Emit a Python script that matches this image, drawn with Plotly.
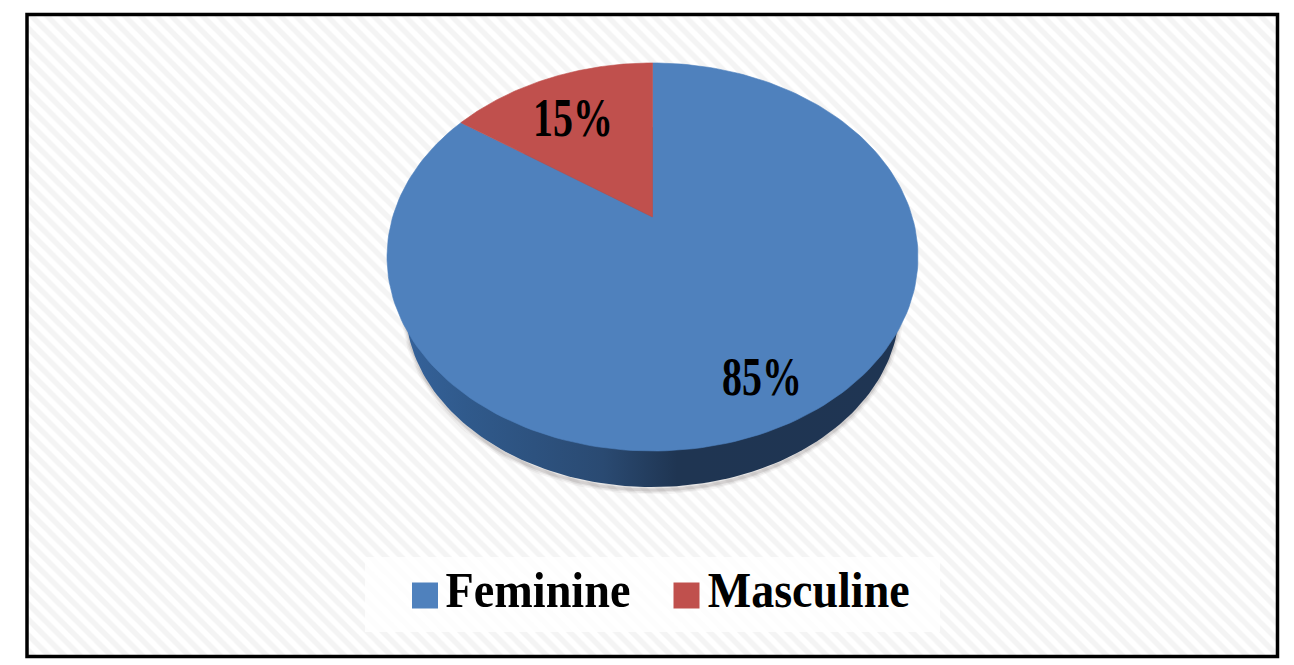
import numpy as np
import plotly.graph_objects as go

# data
categories = ['Feminine', 'Masculine']
shares = [84.6, 15.4]
pct_labels = ['85%', '15%']
colors = ['#4f81bd', '#c0504d']

W, H = 1294, 665
FONT = 'Liberation Serif'

# pie disc seen in perspective: apex is not the middle of the ellipse
cx, apex_y = 652.5, 217
k, a, b = 0.206, 185.8, 259.8


def disc(frac):
    t = 2 * np.pi * np.asarray(frac)
    w = 1 + k * np.cos(t)
    return cx + b * np.sin(t) / w, apex_y - a * np.cos(t) / w


def ellipse(cy, rx, ry):
    t = np.linspace(0, 2 * np.pi, 240)
    return cx + rx * np.cos(t), cy + ry * np.sin(t)


def poly(xs, ys, **kw):
    return go.Scatter(x=xs, y=ys, mode='lines', fill='toself', hoverinfo='skip', **kw)


fig = go.Figure()

# hatched background
fig.add_trace(poly([27, 1278, 1278, 27, 27], [15, 15, 656, 656, 15], line=dict(width=0),
                   fillcolor='white',
                   fillpattern=dict(shape='\\', size=11, solidity=0.5, fgcolor='#e9e9e9', bgcolor='white')))

# legend box
fig.add_trace(poly([365, 940, 940, 365, 365], [557, 557, 632, 632, 557], line=dict(width=0),
                   fillcolor='rgba(255,255,255,0.8)'))

# soft shadow under the disc
sx, sy = ellipse(306, 247, 184)
for width, alpha in [(9, 0.05), (6, 0.08), (3, 0.12)]:
    fig.add_trace(go.Scatter(x=sx, y=sy, mode='lines', hoverinfo='skip',
                             line=dict(color='rgba(70,60,60,%s)' % alpha, width=width)))

# side of the disc
ex, ey = ellipse(307, 247, 180)
fig.add_trace(poly(ex, ey, line=dict(width=0),
                   fillgradient=dict(type='horizontal',
                                     colorscale=[[0, '#35629a'], [0.12, '#305a8c'], [0.4, '#2a4a72'],
                                                 [0.55, '#1f3552'], [1, '#1f3553']])))

# slices
start = 0
for name, share, color in zip(categories, shares, colors):
    f = np.linspace(start, start + share / sum(shares), 200)
    xs, ys = disc(f)
    fig.add_trace(poly(np.r_[cx, xs, cx], np.r_[apex_y, ys, apex_y], name=name,
                       line=dict(width=0.6, color=color), fillcolor=color))
    start += share / sum(shares)

# legend swatches
fig.add_trace(go.Scatter(x=[425, 686.5], y=[595.5, 595.5], mode='markers', hoverinfo='skip',
                         marker=dict(symbol='square', size=26, color=colors, line=dict(width=0))))

# the original text is tall and narrow, squeezed below in post_script
fig.add_annotation(x=761.5, y=377, text='<b>%s</b>' % pct_labels[0], showarrow=False,
                   font=dict(family=FONT, size=54, color='black'))
fig.add_annotation(x=572.5, y=118, text='<b>%s</b>' % pct_labels[1], showarrow=False,
                   font=dict(family=FONT, size=54, color='black'))
fig.add_annotation(x=537.5, y=590, text='<b>%s</b>' % categories[0], showarrow=False,
                   font=dict(family=FONT, size=50, color='black'))
fig.add_annotation(x=808, y=590, text='<b>%s</b>' % categories[1], showarrow=False,
                   font=dict(family=FONT, size=50, color='black'))

# frame
fig.add_shape(type='rect', x0=27, y0=14.5, x1=1277.5, y1=656.5, line=dict(color='black', width=3.5),
              fillcolor='rgba(0,0,0,0)')

fig.update_layout(width=W, height=H, margin=dict(l=0, r=0, t=0, b=0), showlegend=False,
                  paper_bgcolor='white', plot_bgcolor='white')
fig.update_xaxes(range=[0, W], visible=False)
fig.update_yaxes(range=[H, 0], visible=False)

squeeze = """
document.body.style.margin='0';document.body.style.overflow='hidden';
var sx=[0.74,0.74,0.925,0.92];
document.querySelectorAll('.annotation-text').forEach(function(t,i){
  var b=t.getBBox(),c=b.x+b.width/2;
  t.setAttribute('transform','translate('+c+' 0) scale('+sx[i]+' 1) translate('+(-c)+' 0)');
});
"""
fig.write_html("out.html", config=dict(displayModeBar=False), post_script=squeeze)
